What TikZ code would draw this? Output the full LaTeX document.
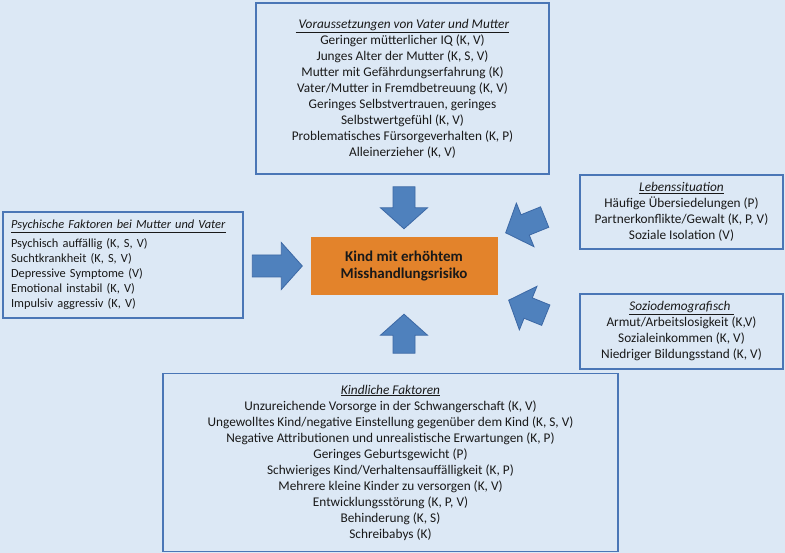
\documentclass[tikz,border=0pt]{standalone}
\usepackage{fontspec}
\setmainfont{Carlito}
\usetikzlibrary{calc}
\definecolor{bgblue}{RGB}{220,232,245}
\definecolor{lineblue}{RGB}{74,118,182}
\definecolor{arrowblue}{RGB}{79,129,189}
\definecolor{arrowline}{RGB}{60,104,165}
\definecolor{kindorange}{RGB}{227,131,43}
\newcommand{\blockarrow}[3]{% tip, angle, length
  \filldraw[fill=arrowblue, draw=arrowline, line width=0.8pt, shift={#1}, rotate=#2]
    (0,0) -- (-21,23.5) -- (-21,11) -- (-#3,11) -- (-#3,-11) -- (-21,-11) -- (-21,-23.5) -- cycle;}
\newcommand{\boxtitle}[1]{\underline{\textit{#1}}}
\begin{document}
\begin{tikzpicture}[x=1pt, y=-1pt,
    infobox/.style={draw=lineblue, line width=1.6pt, fill=bgblue, inner sep=0pt, align=center,
      font=\fontsize{13.3}{16}\selectfont, text=black!90},
    kindbox/.style={fill=kindorange, minimum width=187pt, minimum height=58pt, align=center,
      font=\fontsize{15}{17}\selectfont\bfseries, text=black!90}]
  \fill[bgblue] (0,0) rectangle (785,553);
  \useasboundingbox (0,0) rectangle (785,553);

  \node[kindbox] (kind) at (404,266) {Kind mit erhöhtem\\Misshandlungsrisiko};

  \node[infobox, minimum width=293pt, minimum height=171pt] (eltern) at (402.5,88.5)
    {\boxtitle{\ Voraussetzungen von Vater und Mutter}\\
     Geringer mütterlicher IQ (K, V)\\
     Junges Alter der Mutter (K, S, V)\\
     Mutter mit Gefährdungserfahrung (K)\\
     Vater/Mutter in Fremdbetreuung (K, V)\\
     Geringes Selbstvertrauen, geringes\\
     Selbstwertgefühl (K, V)\\
     Problematisches Fürsorgeverhalten (K, P)\\
     Alleinerzieher (K, V)};

  \node[infobox, align=left, text width=224pt, inner xsep=8pt, minimum height=106pt,
    font=\fontsize{12.4}{15}\selectfont] (psyche) at (123,265)
    {\boxtitle{Psychische Faktoren bei Mutter und Vater}\\[4pt]
     Psychisch auffällig (K, S, V)\\
     Suchtkrankheit (K, S, V)\\
     Depressive Symptome (V)\\
     Emotional instabil (K, V)\\
     Impulsiv aggressiv (K, V)};

  \node[infobox, minimum width=203pt, minimum height=74pt] (leben) at (681.5,212)
    {\boxtitle{Lebenssituation}\\
     Häufige Übersiedelungen (P)\\
     Partnerkonflikte/Gewalt (K, P, V)\\
     Soziale Isolation (V)};

  \node[infobox, minimum width=203pt, minimum height=75pt] (sozio) at (681.5,331.5)
    {\boxtitle{Soziodemografisch\ }\\
     Armut/Arbeitslosigkeit (K,V)\\
     Sozialeinkommen (K, V)\\
     Niedriger Bildungsstand (K, V)};

  \node[infobox, minimum width=455pt, minimum height=178pt] (kindlich) at (390.5,462.5)
    {\boxtitle{Kindliche Faktoren}\\
     Unzureichende Vorsorge in der Schwangerschaft (K, V)\\
     Ungewolltes Kind/negative Einstellung gegenüber dem Kind (K, S, V)\\
     Negative Attributionen und unrealistische Erwartungen (K, P)\\
     Geringes Geburtsgewicht (P)\\
     Schwieriges Kind/Verhaltensauffälligkeit (K, P)\\
     Mehrere kleine Kinder zu versorgen (K, V)\\
     Entwicklungsstörung (K, P, V)\\
     Behinderung (K, S)\\
     Schreibabys (K)};

  % block arrows towards the child
  \blockarrow{($(kind.north)+(0,-8)$)}{-90}{42}
  \blockarrow{($(kind.west)+(-8,0)$)}{0}{50}
  \blockarrow{($(kind.south)+(0,19)$)}{90}{39}
  \blockarrow{($(kind.north east)+(8,-4)$)}{202}{42}
  \blockarrow{($(kind.south east)+(11,5)$)}{158}{40}
\end{tikzpicture}
\end{document}
